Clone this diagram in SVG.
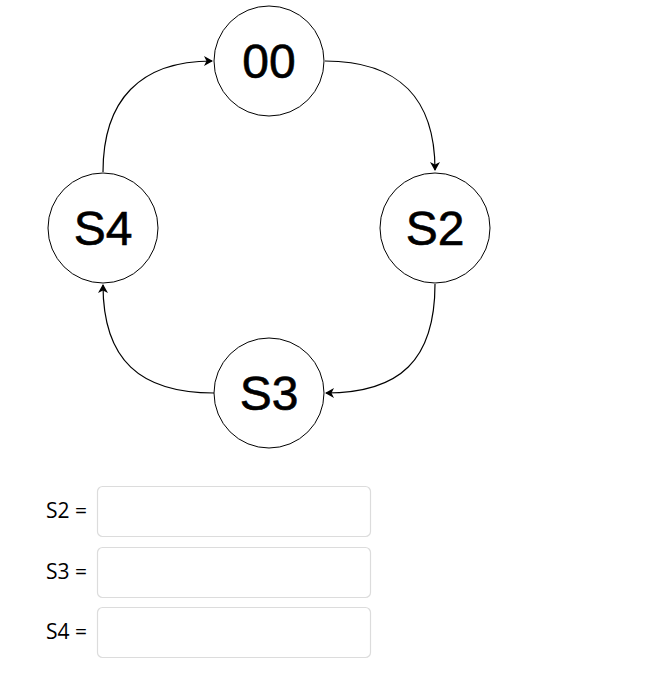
<svg xmlns="http://www.w3.org/2000/svg" width="647" height="700" viewBox="0 0 647 700">
<style>
.n{fill:#fff;stroke:#000;stroke-width:1}
.t{font-family:"Liberation Sans",Arial,sans-serif;font-size:48px;text-anchor:middle;fill:#000;stroke:#000;stroke-width:0.6}
.c{fill:none;stroke:#000;stroke-width:1.2;marker-end:url(#a)}
.b{fill:#fff;stroke:#dcdcdc;stroke-width:1.2}
.l{font-family:"Open Sans",sans-serif;font-size:21px;fill:#000}
</style>
<defs><marker id="a" markerWidth="10" markerHeight="10" refX="8" refY="5" orient="auto" markerUnits="userSpaceOnUse"><path d="M0,0 L9,5 L0,10 L2.5,5 Z" fill="#000"/></marker></defs>
<rect width="647" height="700" fill="#fff"/>
<g id="connectors">
<path class="c" d="M325,61 C400,61 435,100 435,170"/>
<path class="c" d="M435,284 C435,360 400,393 326,393"/>
<path class="c" d="M214,393 C140,393 103,360 103,285"/>
<path class="c" d="M103,172 C103,100 140,61 212,61"/>
</g>
<g id="n00"><circle class="n" cx="269" cy="61" r="55"/><text class="t" x="269" y="78">00</text></g>
<g id="nS2"><circle class="n" cx="435" cy="228" r="55"/><text class="t" x="435" y="245">S2</text></g>
<g id="nS3"><circle class="n" cx="269" cy="393" r="55"/><text class="t" x="269" y="410">S3</text></g>
<g id="nS4"><circle class="n" cx="103" cy="228" r="55"/><text class="t" x="103" y="245">S4</text></g>
<g id="inputs">
<text class="l" x="46" y="518">S2 =</text><rect class="b" x="97.5" y="486.5" width="273" height="50" rx="5"/>
<text class="l" x="46" y="579">S3 =</text><rect class="b" x="97.5" y="547.5" width="273" height="50" rx="5"/>
<text class="l" x="46" y="639">S4 =</text><rect class="b" x="97.5" y="607.5" width="273" height="50" rx="5"/>
</g>
</svg>
